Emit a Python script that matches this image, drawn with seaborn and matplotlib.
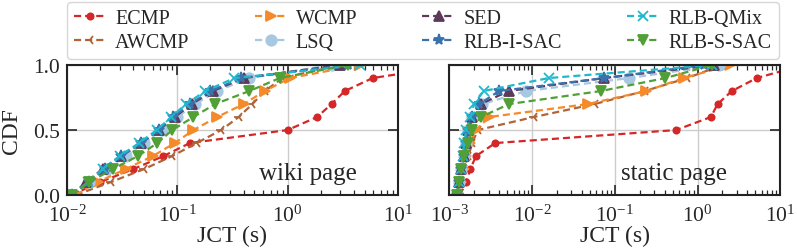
import numpy as np
import pandas as pd
import matplotlib
matplotlib.use("Agg")
import matplotlib.pyplot as plt
import seaborn as sns

# === data: JCT (s) at each CDF level ===
CDF_LEVELS = [0.0, 0.1, 0.2, 0.3, 0.4, 0.5, 0.6, 0.7, 0.8, 0.9, 1.0]

METHODS = ["ECMP", "AWCMP", "WCMP", "LSQ", "SED", "RLB-I-SAC", "RLB-QMix", "RLB-S-SAC"]

wiki_ecmp = [0.011, 0.02, 0.04, 0.075, 0.13, 1.0, 1.85, 2.5, 3.3, 5.9, 35]
wiki_awcmp = [0.012, 0.025, 0.05, 0.09, 0.15, 0.25, 0.36, 0.48, 0.62, 0.9, 3.0]
wiki_wcmp = [0.012, 0.019, 0.034, 0.06, 0.095, 0.14, 0.23, 0.4, 0.62, 1.05, 4.5]
wiki_lsq = [0.011, 0.016, 0.023, 0.034, 0.05, 0.072, 0.1, 0.145, 0.23, 0.45, 2.5]
wiki_sed = [0.011, 0.015, 0.021, 0.031, 0.047, 0.068, 0.095, 0.135, 0.21, 0.4, 3.0]
wiki_isac = [0.011, 0.016, 0.022, 0.031, 0.047, 0.068, 0.092, 0.13, 0.2, 0.38, 3.5]
wiki_qmix = [0.011, 0.0155, 0.021, 0.03, 0.045, 0.065, 0.088, 0.12, 0.18, 0.33, 4.5]
wiki_ssac = [0.011, 0.016, 0.026, 0.044, 0.066, 0.09, 0.14, 0.22, 0.45, 0.85, 3.5]

static_ecmp = [0.00135, 0.0016, 0.0018, 0.0021, 0.0036, 0.55, 1.45, 1.75, 2.6, 5.2, 19]
static_awcmp = [0.0013, 0.0014, 0.0015, 0.0017, 0.0019, 0.0022, 0.0105, 0.057, 0.23, 0.75, 2.0]
static_wcmp = [0.0013, 0.0014, 0.0015, 0.0016, 0.0018, 0.0021, 0.003, 0.047, 0.24, 0.68, 2.5]
static_lsq = [0.00125, 0.0013, 0.0014, 0.0015, 0.0016, 0.0017, 0.0019, 0.0025, 0.0085, 0.15, 1.8]
static_sed = [0.00125, 0.0013, 0.0014, 0.0015, 0.0016, 0.0017, 0.0019, 0.0024, 0.0052, 0.075, 1.6]
static_isac = [0.00125, 0.0013, 0.0014, 0.0015, 0.0016, 0.0017, 0.0019, 0.0023, 0.004, 0.075, 1.2]
static_qmix = [0.00125, 0.0013, 0.00138, 0.00145, 0.00152, 0.0016, 0.0018, 0.002, 0.0026, 0.016, 1.5]
static_ssac = [0.00125, 0.0013, 0.0014, 0.0015, 0.0017, 0.0019, 0.0024, 0.0053, 0.068, 0.41, 1.5]

WIKI = [wiki_ecmp, wiki_awcmp, wiki_wcmp, wiki_lsq, wiki_sed, wiki_isac, wiki_qmix, wiki_ssac]
STATIC = [static_ecmp, static_awcmp, static_wcmp, static_lsq, static_sed, static_isac, static_qmix, static_ssac]

# === styles ===
COLORS = {
    "ECMP": "#d62728",
    "AWCMP": "#b0643a",
    "WCMP": "#f58a2a",
    "LSQ": "#a6c8e2",
    "SED": "#5d3a5a",
    "RLB-I-SAC": "#3a72ad",
    "RLB-QMix": "#1fb8cc",
    "RLB-S-SAC": "#50a037",
}
MARKERS = {
    "ECMP": "o",
    "AWCMP": "3",
    "WCMP": ">",
    "LSQ": "o",
    "SED": "^",
    "RLB-I-SAC": "*",
    "RLB-QMix": "x",
    "RLB-S-SAC": "v",
}
MSIZE = {"ECMP": 4.5, "AWCMP": 7.5, "WCMP": 7.5, "LSQ": 7.5, "SED": 7.5,
         "RLB-I-SAC": 8, "RLB-QMix": 7.5, "RLB-S-SAC": 7.5}


def to_long(series):
    rows = []
    for name, xs in zip(METHODS, series):
        for x, y in zip(xs, CDF_LEVELS):
            rows.append({"method": name, "jct": x, "cdf": y})
    return pd.DataFrame(rows)


sns.set_style("ticks")
plt.rcParams["font.family"] = ["Liberation Serif", "DejaVu Serif"]
plt.rcParams["mathtext.fontset"] = "stix"
plt.rcParams["font.size"] = 15

fig, axes = plt.subplots(1, 2, figsize=(7.97, 2.53), dpi=100)
fig.subplots_adjust(left=0.084, right=0.979, bottom=0.225, top=0.739, wspace=0.155)

panels = [(axes[0], WIKI, "wiki page", (1e-2, 10), 0.875),
          (axes[1], STATIC, "static page", (1e-3, 10), 0.84)]

for ax, series, label, xlim, tx in panels:
    df = to_long(series)
    sns.lineplot(
        data=df, x="jct", y="cdf", hue="method", style="method",
        hue_order=METHODS, style_order=METHODS,
        palette=COLORS,
        dashes={m: (3.2, 1.8) for m in METHODS},
        estimator=None, sort=False, linewidth=1.6,
        legend=False, ax=ax,
    )
    for line, name in zip(ax.get_lines(), METHODS):
        line.set_marker(MARKERS[name])
        line.set_markeredgecolor(COLORS[name])
        line.set_markerfacecolor(COLORS[name])
        line.set_markersize(MSIZE[name])
        line.set_markeredgewidth(1.3)
        line.set_label(name)
    ax.set_xscale("log")
    ax.set_xlim(*xlim)
    ax.set_ylim(0, 1)
    ax.set_yticks([0, 0.5, 1.0])
    ax.set_xlabel("JCT (s)", labelpad=0, fontsize=17)
    ax.grid(True, which="major", color="#cccccc", linewidth=1)
    ax.tick_params(which="both", direction="in", top=True, right=True)
    ax.tick_params(which="major", length=7, width=1.2, labelsize=15.5, pad=5)
    ax.tick_params(axis="x", which="major", pad=6.5)
    ax.tick_params(which="minor", length=3.5, width=0.9)
    for sp in ax.spines.values():
        sp.set_linewidth(1.5)
        sp.set_color("#222222")
    ax.text(tx, 0.12, label, transform=ax.transAxes, ha="right",
            va="baseline", fontsize=18)

axes[0].set_ylabel("CDF", labelpad=8, fontsize=17)
axes[0].set_yticklabels(["0.0", "0.5", "1.0"])
axes[1].set_ylabel("")
axes[1].set_yticklabels([])

handles = axes[0].get_lines()[:len(METHODS)]
fig.legend(handles, METHODS, loc="upper left", ncol=4, mode="expand",
           bbox_to_anchor=(0.084, 0.767, 0.893, 0.221), borderaxespad=0,
           fontsize=14.5, frameon=True, fancybox=True, edgecolor="#cccccc",
           handlelength=1.6, handletextpad=0.45, borderpad=0.35,
           labelspacing=0.25, columnspacing=1.0)

fig.savefig("out.png", dpi=100)
